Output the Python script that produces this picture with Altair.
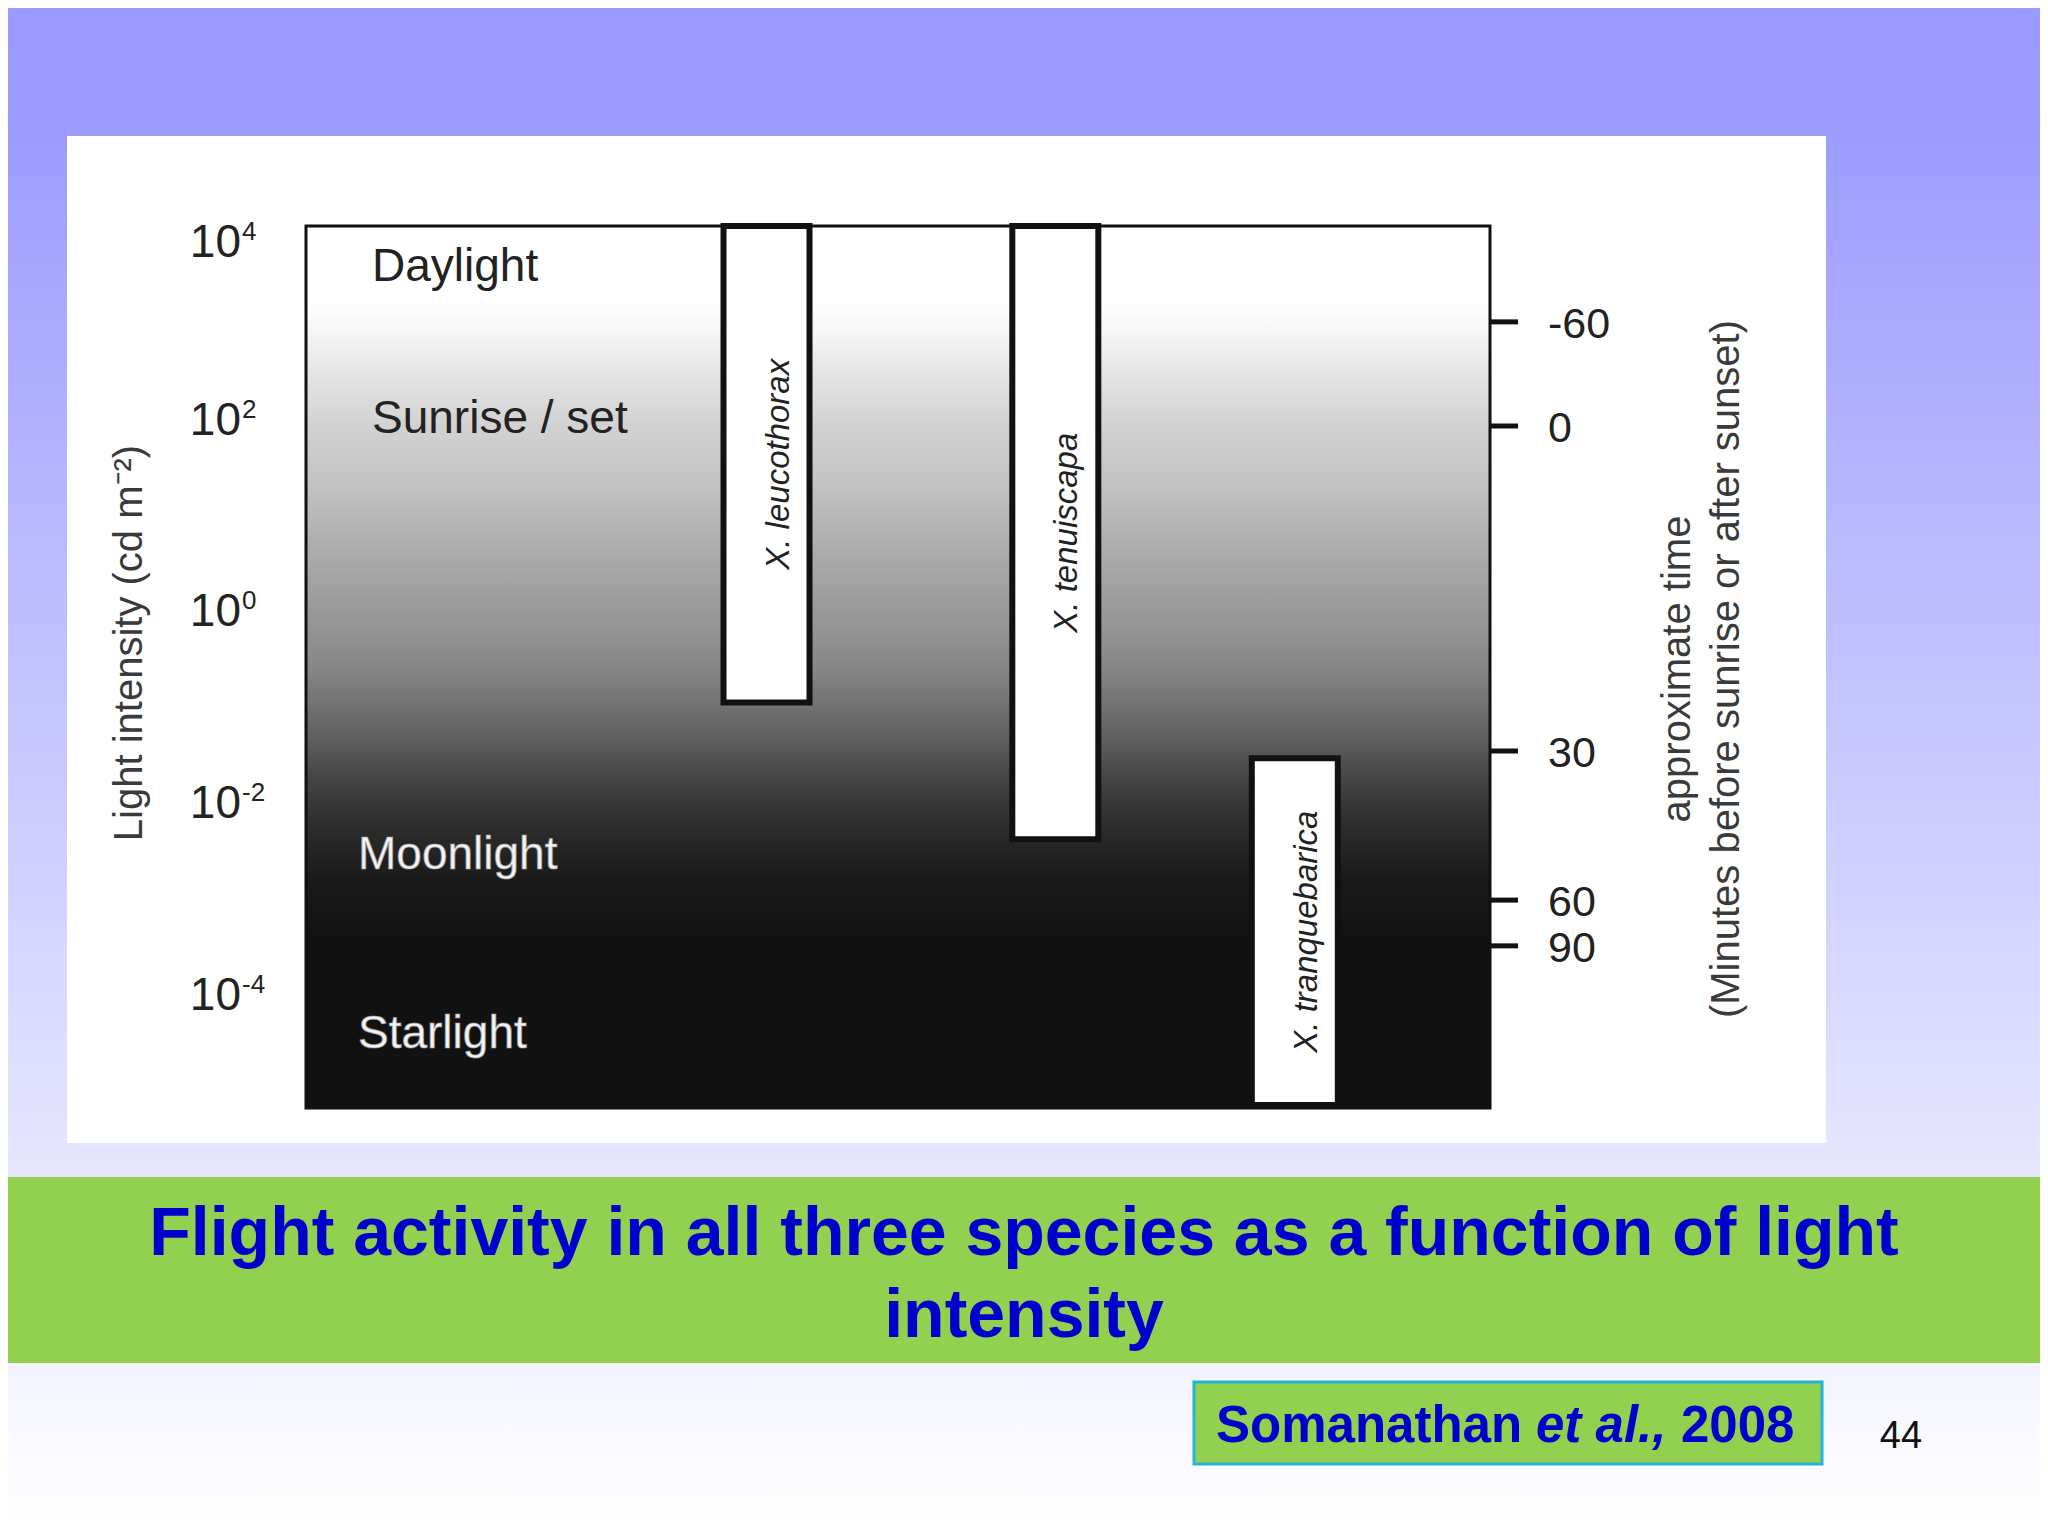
import altair as alt
import pandas as pd

# ---------------- data ----------------
species = ["X. leucothorax", "X. tenuiscapa", "X. tranquebarica"]
species_column = [3.88, 6.34, 8.38]          # column slot of each species (0-10 panel units)
activity_upper = [1e4, 1e4, 0.028]           # cd m^-2
activity_lower = [0.107, 0.004, 6.8e-6]      # cd m^-2

regions = ["Daylight", "Sunrise / set", "Moonlight", "Starlight"]
region_level = [3700, 97, 0.00275, 3.7e-5]
region_tone = ["dark", "dark", "light", "light"]

decade_ticks = [1e-5, 1e-4, 1e-3, 1e-2, 1e-1, 1e0, 1e1, 1e2, 1e3, 1e4]
label_exponents = [4, 2, 0, -2, -4]

time_labels = ["-60", "0", "30", "60", "90"]
time_level = [1000, 82, 0.0334, 9.3e-4, 3.1e-4]

y_domain = [10 ** -5.2, 1e4]

title_lines = ["Flight activity in all three species as a function of light", "intensity"]
citation = ["Somanathan", "et al.,", "2008"]
page_number = "44"

# ---------------- tables ----------------
bars = pd.DataFrame({"species": species, "col": species_column,
                     "upper": activity_upper, "lower": activity_lower})
bars["mid"] = (bars["upper"] * bars["lower"]) ** 0.5
reg = pd.DataFrame({"name": regions, "level": region_level, "tone": region_tone})
ticklab = pd.DataFrame({"exp": label_exponents})
ticklab["level"] = 10.0 ** ticklab["exp"]
ticklab["base"] = "10"
ticklab["sup"] = ticklab["exp"].astype(str)
times = pd.DataFrame({"label": time_labels, "level": time_level})
frame = pd.DataFrame({"top": [y_domain[1]], "bottom": [y_domain[0]]})
one = pd.DataFrame({"k": [0]})

W, H = 1184, 882
TOTAL_W, TOTAL_H = 2032, 1520
PL, PT = 298, 218
FONT = "Liberation Sans, Arial, Helvetica, sans-serif"
yscale = alt.Scale(type="log", domain=y_domain, nice=False)
xscale = alt.Scale(domain=[0, 10], nice=False)


def lin(stops):
    return alt.LinearGradient(gradient="linear", x1=0, y1=0, x2=0, y2=1,
                              stops=[alt.GradientStop(offset=o, color=c) for o, c in stops])


def box(x1, x2, y1, y2, **kw):
    return alt.Chart(one).mark_rect(**kw).encode(
        x=alt.value(x1), x2=alt.value(x2), y=alt.value(y1), y2=alt.value(y2))


def label(txt, x, y, **kw):
    return alt.Chart(one).mark_text(font=FONT, **kw).encode(
        x=alt.value(x), y=alt.value(y), text=alt.value(txt))


slide_bg = box(-PL, TOTAL_W - PL, -PT, TOTAL_H - PT,
               fill=lin([(0, "#9999ff"), (0.06, "#9a9aff"), (1, "#ffffff")]))
panel = box(-239, 1520, -90, 917, fill="#ffffff")
band = box(-PL, TOTAL_W - PL, 951, 1137, fill="#92d050")
title = label("\n".join(title_lines), 718, 1029, fontSize=68, fontWeight="bold",
              color="#0000cc", align="center", baseline="alphabetic",
              lineBreak="\n", lineHeight=82)
cite_box = box(888, 1516, 1156, 1238, fill="#92d050", stroke="#22b5d5", strokeWidth=3)
cite1 = label(citation[0], 910, 1216, fontSize=51, fontWeight="bold", color="#0000cc",
              align="left", baseline="alphabetic")
cite2 = label(citation[1], 1230, 1216, fontSize=51, fontWeight="bold", fontStyle="italic",
              color="#0000cc", align="left", baseline="alphabetic")
cite3 = label(citation[2], 1375, 1216, fontSize=51, fontWeight="bold", color="#0000cc",
              align="left", baseline="alphabetic")
pnum = label(page_number, 1595, 1222, fontSize=38, color="#111111", align="center",
             baseline="alphabetic")

plot_bg = alt.Chart(frame).mark_rect(
    fill=lin([(0, "#ffffff"), (0.084, "#ffffff"), (0.129, "#f3f3f3"), (0.171, "#e3e3e3"),
              (0.223, "#d3d3d3"), (0.299, "#c1c1c1"), (0.375, "#aaaaaa"), (0.45, "#969696"),
              (0.503, "#868686"), (0.571, "#646464"), (0.628, "#444444"), (0.685, "#2b2b2b"),
              (0.741, "#1a1a1a"), (0.81, "#121212"), (1, "#111111")]),
    stroke="#111111", strokeWidth=3,
).encode(
    x=alt.value(0), x2=alt.value(W),
    y=alt.Y("top:Q", scale=yscale,
            axis=alt.Axis(values=decade_ticks, labels=False, title=None, grid=False,
                          ticks=True, tickSize=12, tickWidth=3, tickColor="#111111",
                          domain=True, domainColor="#111111", domainWidth=3, zindex=1)),
    y2="bottom:Q",
)

reg_dark = alt.Chart(reg).transform_filter("datum.tone == 'dark'").mark_text(
    font=FONT, fontSize=46, color="#222222", align="left", baseline="middle"
).encode(x=alt.value(66), y=alt.Y("level:Q", scale=yscale, axis=None), text="name:N")
reg_light = alt.Chart(reg).transform_filter("datum.tone == 'light'").mark_text(
    font=FONT, fontSize=46, color="#f4f4f4", align="left", baseline="middle",
    stroke="#9a9a9a", strokeWidth=1.2, strokeOpacity=0.6
).encode(x=alt.value(52), y=alt.Y("level:Q", scale=yscale, axis=None), text="name:N")

bar_marks = alt.Chart(bars).mark_bar(
    width=86, fill="#ffffff", stroke="#111111", strokeWidth=6, orient="vertical"
).encode(
    x=alt.X("col:Q", scale=xscale, axis=None),
    y=alt.Y("upper:Q", scale=yscale, axis=None),
    y2="lower:Q",
)
bar_text = alt.Chart(bars).mark_text(
    font=FONT, fontSize=33, fontStyle="italic", color="#222222", angle=270,
    align="center", baseline="middle", dy=12
).encode(
    x=alt.X("col:Q", scale=xscale, axis=None),
    y=alt.Y("mid:Q", scale=yscale, axis=None),
    text="species:N",
)

tick10 = alt.Chart(ticklab).transform_filter("datum.exp != 4").mark_text(
    font=FONT, fontSize=46, color="#222222", align="right", baseline="middle", dy=3
).encode(x=alt.value(-65), y=alt.Y("level:Q", scale=yscale, axis=None), text="base:N")
tick10_top = alt.Chart(ticklab).transform_filter("datum.exp == 4").mark_text(
    font=FONT, fontSize=46, color="#222222", align="right", baseline="middle", dy=17
).encode(x=alt.value(-65), y=alt.Y("level:Q", scale=yscale, axis=None), text="base:N")
sup = alt.Chart(ticklab).transform_filter("datum.exp != 4").mark_text(
    font=FONT, fontSize=26, color="#222222", align="left", baseline="middle", dy=-8
).encode(x=alt.value(-64), y=alt.Y("level:Q", scale=yscale, axis=None), text="sup:N")
sup_top = alt.Chart(ticklab).transform_filter("datum.exp == 4").mark_text(
    font=FONT, fontSize=26, color="#222222", align="left", baseline="middle", dy=6
).encode(x=alt.value(-64), y=alt.Y("level:Q", scale=yscale, axis=None), text="sup:N")

rticks = alt.Chart(times).mark_rule(color="#111111", strokeWidth=5).encode(
    x=alt.value(W), x2=alt.value(W + 28), y=alt.Y("level:Q", scale=yscale, axis=None))
rlabels = alt.Chart(times).mark_text(
    font=FONT, fontSize=43, color="#222222", align="left", baseline="middle", dy=3
).encode(x=alt.value(W + 58), y=alt.Y("level:Q", scale=yscale, axis=None), text="label:N")

ltitle = label("Light intensity (cd m\u207b\u00b2)", -176, 417, fontSize=40, color="#3a3a3a",
               angle=270, align="center", baseline="middle")
rtitle = label("approximate time\n(Minutes before sunrise or after sunset)", 1372, 443,
               fontSize=40, color="#3a3a3a", angle=270, align="center", baseline="middle",
               lineBreak="\n", lineHeight=49)

chart = alt.layer(
    slide_bg, panel, band, title, cite_box, cite1, cite2, cite3, pnum,
    plot_bg, reg_dark, reg_light, bar_marks, bar_text,
    tick10, tick10_top, sup, sup_top, rticks, rlabels, ltitle, rtitle,
).properties(
    width=W, height=H,
    autosize=alt.AutoSizeParams(type="none"),
    padding={"left": PL, "top": PT, "right": TOTAL_W - PL - W, "bottom": TOTAL_H - PT - H},
    background="#ffffff",
).configure_view(stroke=None)

chart.save("out.html", embed_options={"renderer": "svg", "actions": False})
